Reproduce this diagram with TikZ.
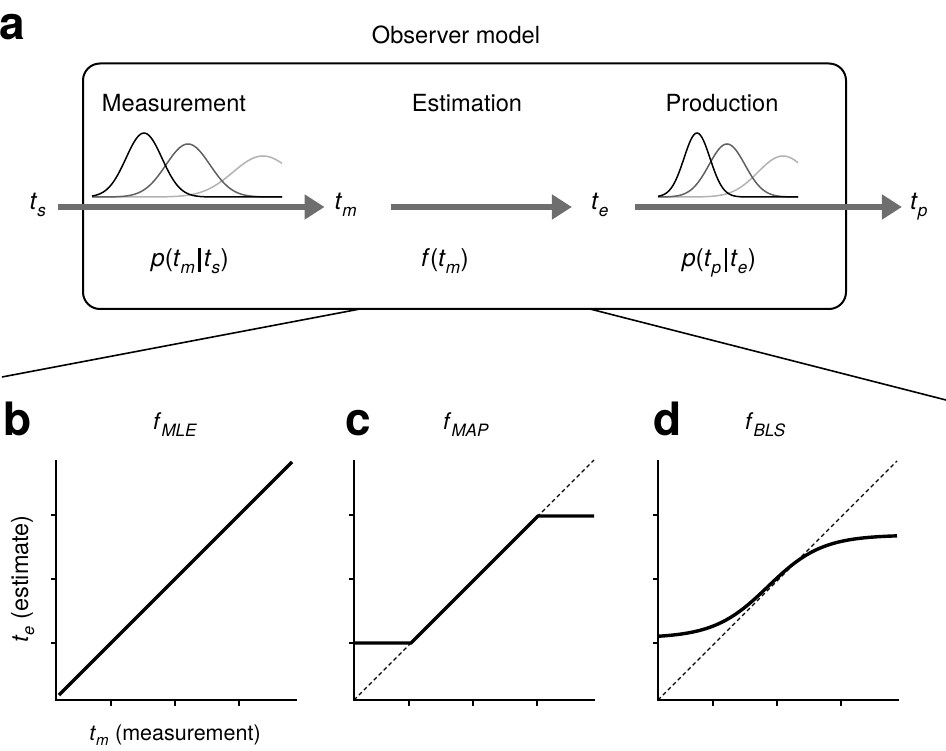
\documentclass[tikz,border=0pt]{standalone}
\usepackage{fontspec}
\setmainfont{TeX Gyre Heros}
\usetikzlibrary{arrows.meta, positioning}

\newcommand{\fsz}[2]{\fontsize{#1}{#2}\selectfont}
\newcommand{\tv}[1]{\textit{t}\raisebox{-0.1em}{\textsubscript{\textit{#1}}}}
\newcommand{\fv}[1]{\textit{f}\raisebox{-0.3em}{\fsz{17}{20}\textit{#1}}}
\newcommand{\givenbar}{\kern3pt\rule[-5pt]{2.4pt}{24pt}\kern3pt}

\tikzset{
  garrow/.style={draw=black!57, line width=6pt, -{Triangle[length=20pt,width=24pt]}},
  gauss/.style={line width=1.5pt, samples=90},
  axisline/.style={line width=2pt},
  fitline/.style={line width=3.4pt},
  idline/.style={line width=1.2pt, dash pattern=on 4pt off 3pt},
  headlbl/.style={font=\fsz{23.6}{28}, anchor=base, inner sep=0pt},
  varlbl/.style={font=\fsz{24.5}{28}, anchor=base, inner sep=0pt, text height=14pt, text depth=8pt},
  axlbl/.style={font=\fsz{21.5}{25}, anchor=base, inner sep=0pt},
  ftitle/.style={font=\fsz{23}{26}, anchor=base west, inner sep=0pt},
  panellbl/.style={font=\fsz{46}{50}\bfseries, anchor=base west, inner sep=0pt}
}

\begin{document}
\begin{tikzpicture}[x=1pt, y=-1pt]
\useasboundingbox (0,0) rectangle (946,751);

% panel a: observer model
\node[panellbl] (la) at (-1,40) {a};
\node[headlbl] (title) at (456,44) {Observer model};
\draw [line width=2pt, rounded corners=17pt] (83,63.5) rectangle (846,309);
\node[headlbl] (meas) at (174,112) {Measurement};
\node[headlbl] (est) at (467,112) {Estimation};
\node[headlbl] (prod) at (722,112) {Production};

\foreach \mu/\sg/\h/\c in {263/30/41/black!30, 188/22/53/black!62, 144/18/64/black}
  \draw [gauss, draw=\c, domain=92:282] plot (\x, {197-\h*exp(-((\x-\mu)/\sg)^2/2)});
\foreach \mu/\sg/\h/\c in {783/25/41/black!30, 727/18/53/black!62, 697/13/64/black}
  \draw [gauss, draw=\c, domain=658:798] plot (\x, {197-\h*exp(-((\x-\mu)/\sg)^2/2)});

\node[varlbl] (ts) at (38,210) {\tv{s}};
\node[varlbl] (tm) at (346,210) {\tv{m}};
\node[varlbl] (te) at (600,210) {\tv{e}};
\node[varlbl] (tp) at (919,210) {\tv{p}};
\draw [garrow, shorten <=11pt, shorten >=10pt] (ts.east) -- (tm.west);
\draw [garrow, shorten <=34pt, shorten >=19pt] (tm.east) -- (te.west);
\draw [garrow, shorten <=26pt, shorten >=8pt] (te.east) -- (tp.west);

\node[varlbl] (pm) at (190,267) {\textit{p}(\tv{m}\givenbar\tv{s})};
\node[varlbl] (fe) at (445,267) {\textit{f}(\tv{m})};
\node[varlbl] (pp) at (719,267) {\textit{p}(\tv{p}\givenbar\tv{e})};

% zoom lines
\draw [line width=1.6pt] (360,309) -- (2,377);
\draw [line width=1.6pt] (590,309) -- (946,400);

% panels b, c, d
\node[panellbl] (lb) at (3,436) {b};
\node[panellbl] (lc) at (345,436) {c};
\node[panellbl] (ld) at (653,436) {d};
\node[ftitle] (fb) at (153,430) {\fv{MLE}};
\node[ftitle] (fc) at (443,430) {\fv{MAP}};
\node[ftitle] (fd) at (745,430) {\fv{BLS}};

\foreach \ox in {56,354,658} {
  \draw [axisline] (\ox,460) -- (\ox,700) -- (\ox+241,700);
  \foreach \ty in {515,579,643} \draw [axisline] (\ox,\ty) -- (\ox-5,\ty);
  \foreach \tx in {55,119,183} \draw [axisline] (\ox+\tx,700) -- (\ox+\tx,706);
}
\node[axlbl] (xl) at (175,740) {\tv{m} (measurement)};
\node[axlbl, font=\fsz{23.5}{27}, rotate=90] (yl) at (28,579) {\tv{e} (estimate)};

\draw [fitline] (59,695) -- (292,462);

\draw [idline] (354,700) -- (594,460);
\draw [fitline] (354,643) -- (411,643) -- (538,516) -- (594,516);

\draw [idline] (658,700) -- (897,461);
\draw [fitline, domain=658:897, samples=80] plot (\x, {700-62-103/(1+exp(-(\x-768)/27))});
\end{tikzpicture}
\end{document}
